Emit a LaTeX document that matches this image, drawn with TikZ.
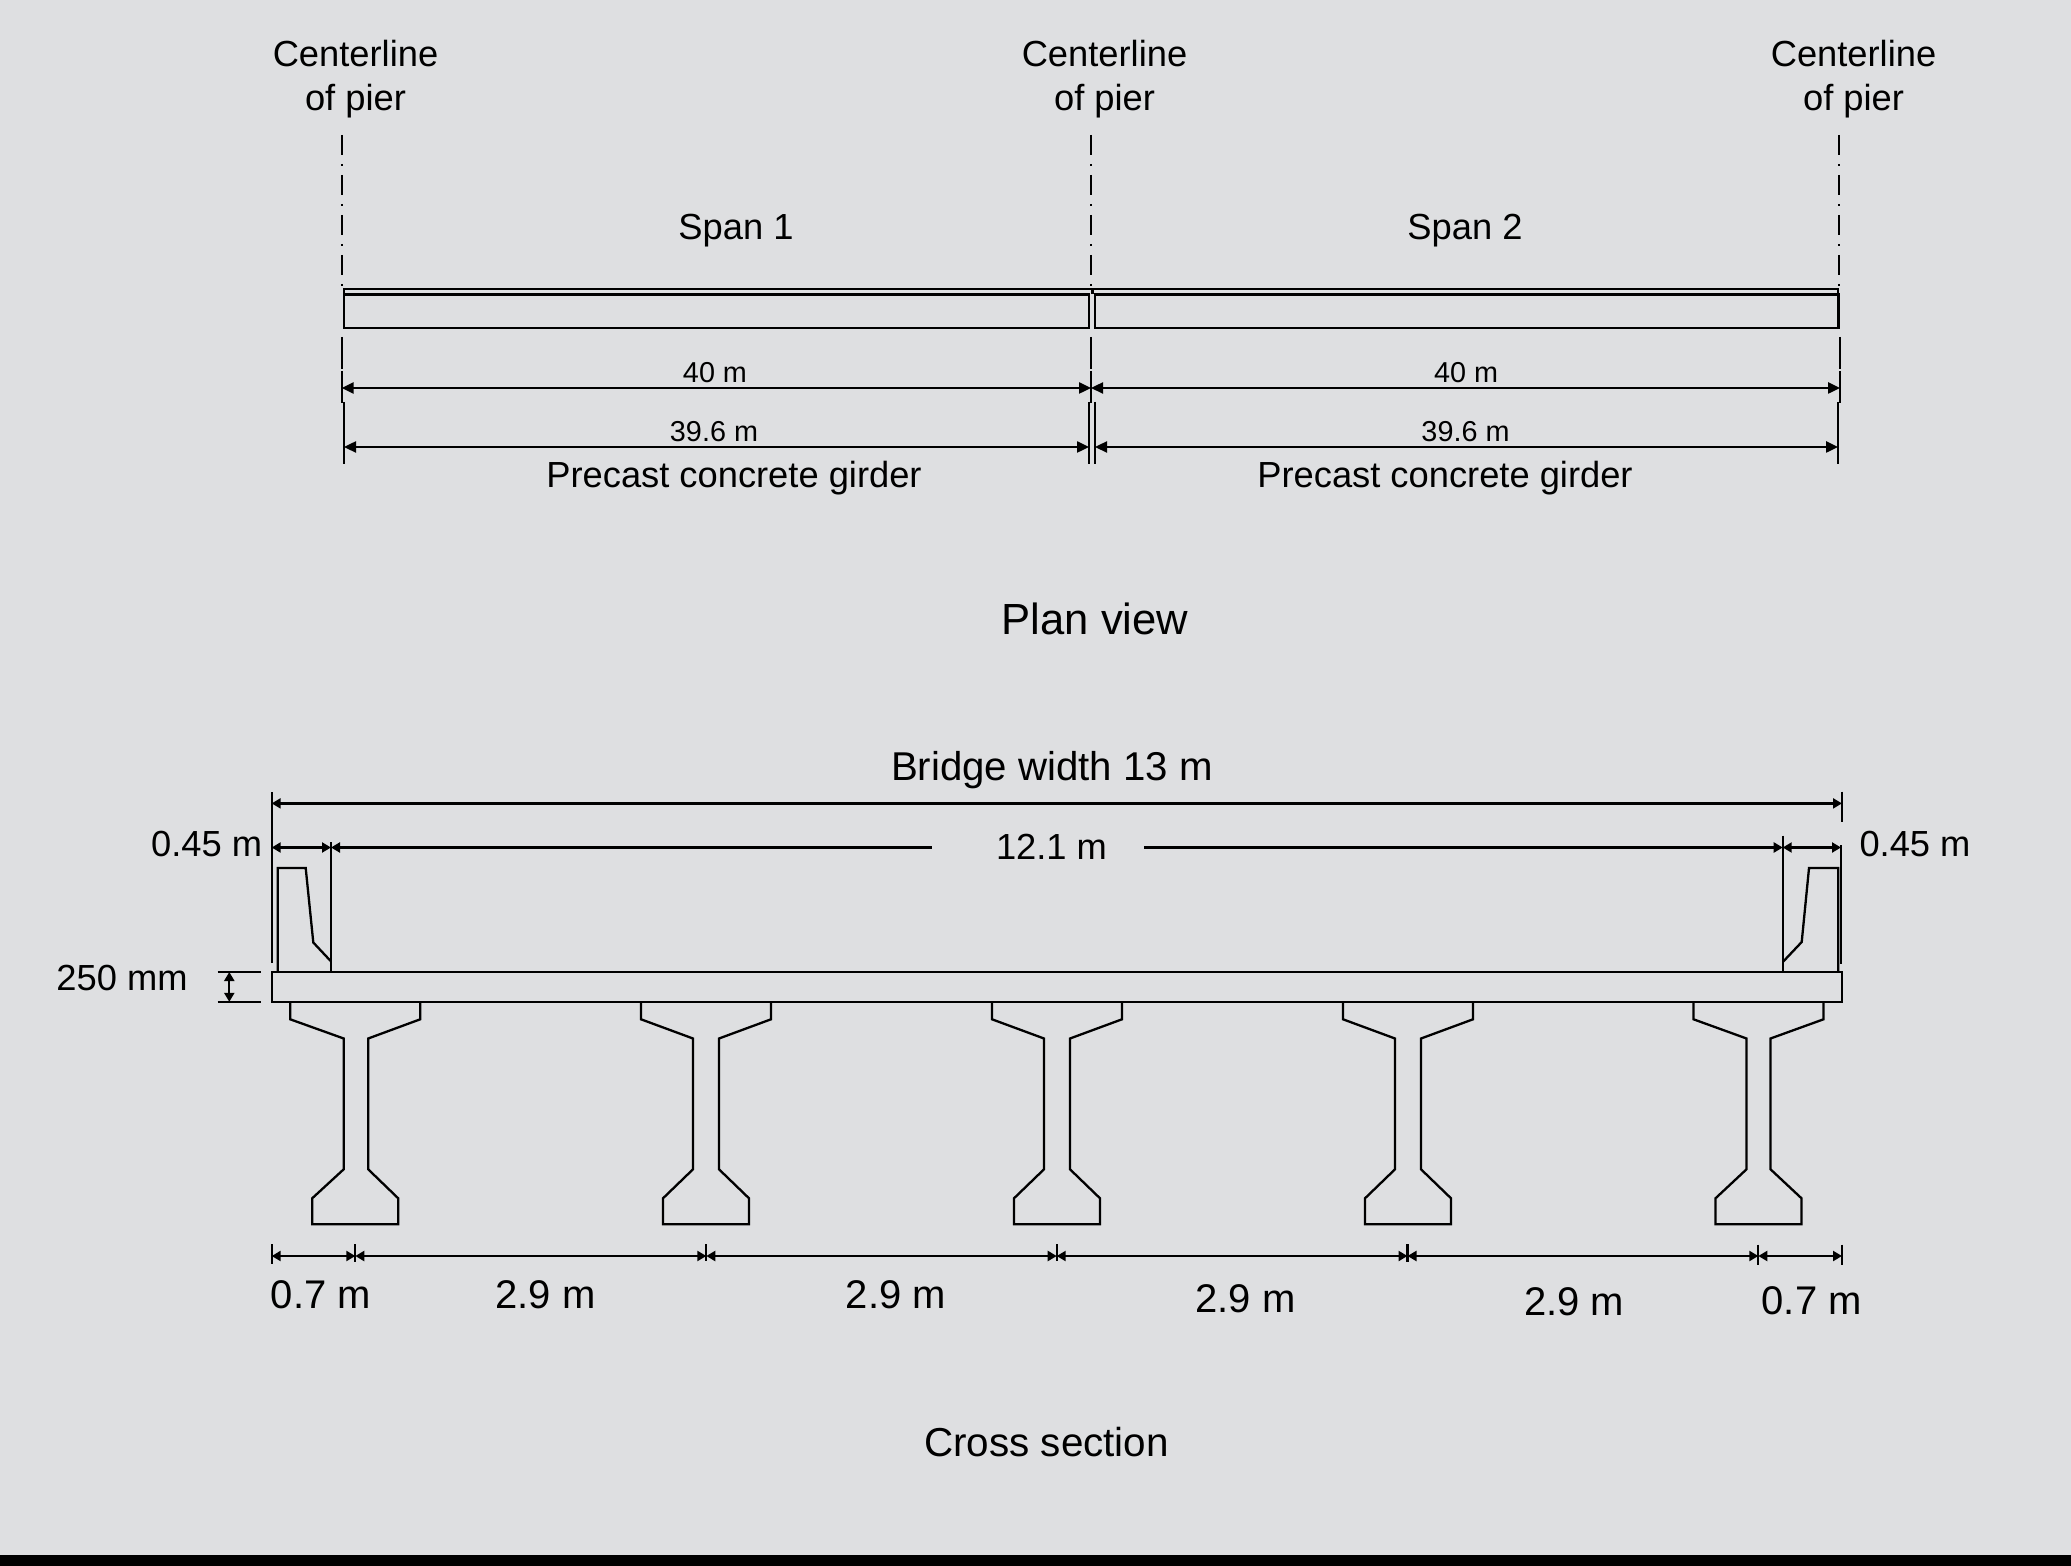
\documentclass[tikz,border=0pt]{standalone}
\usepackage{fontspec}
\setmainfont{Liberation Sans}
\usepackage{xcolor}
\usetikzlibrary{arrows.meta}
\definecolor{sheet}{HTML}{DEDFE1}

\tikzset{
  lbl/.style={anchor=base, inner sep=0pt, font=\fontsize{18.15}{21.75}\selectfont, align=center},
  lblsmall/.style={lbl, font=\fontsize{14.4}{17}\selectfont},
  lbllarge/.style={lbl, font=\fontsize{20}{23}\selectfont},
  lbltitle/.style={lbl, font=\fontsize{21.8}{26}\selectfont},
  outline/.style={line width=1.15pt, line join=miter},
  girderline/.style={line width=1.45pt},
  pierline/.style={line width=1pt, dash pattern=on 10pt off 4.5pt on 1pt off 4.5pt},
  pierlow/.style={line width=1.1pt, dash pattern=on 16pt off 1pt},
  extline/.style={line width=1.1pt},
  dimline/.style={line width=1.2pt, {Triangle[length=6pt,width=5.5pt]}-{Triangle[length=6pt,width=5.5pt]}},
  dimsmall/.style={line width=1.1pt, {Triangle[length=4.5pt,width=5pt]}-{Triangle[length=4.5pt,width=5pt]}},
}

\begin{document}
\begin{tikzpicture}[x=0.5pt, y=-0.5pt]
  \useasboundingbox (0,0) rectangle (2071,1566);
  \fill[sheet] (0,0) rectangle (2071,1566);
  \fill[black] (0,1555) rectangle (2071,1566);

  % plan view
  \coordinate (p1top) at (341.6,135);
  \coordinate (p2top) at (1090.5,135);
  \coordinate (p3top) at (1839,135);
  \coordinate (p1end) at (341.6,288);
  \coordinate (p2end) at (1090.5,288);
  \coordinate (p3end) at (1839,288);
  \draw[pierline] (p1top) -- (p1end);
  \draw[pierline] (p2top) -- (p2end);
  \draw[pierline] (p3top) -- (p3end);
  \coordinate (p1low) at (341.6,337);
  \coordinate (p2low) at (1091,337);
  \coordinate (p3low) at (1840,337);
  \coordinate (p1dim) at (341.6,388);
  \coordinate (p2dim) at (1091,388);
  \coordinate (p3dim) at (1840,388);
  \draw[pierlow] (p1low) -- (341.6,403);
  \draw[pierlow] (p2low) -- (1091,403);
  \draw[pierlow] (p3low) -- (1840,403);

  \node[lbl] (pier1) at (355.5,110.5) {Centerline\\of pier};
  \node[lbl] (pier2) at (1104.5,110.5) {Centerline\\of pier};
  \node[lbl] (pier3) at (1853.5,110.5) {Centerline\\of pier};
  \node[lbl] (span1) at (736,240) {Span 1};
  \node[lbl] (span2) at (1465,240) {Span 2};

  \draw[outline] (344,294) -- (344,289) -- (1838,289) -- (1838,294);
  \draw[girderline] (344,294.5) rectangle (1089,328);
  \draw[girderline] (1095,294.5) rectangle (1838.5,328);
  \draw[outline] (1092.5,289) -- (1092.5,294);

  \draw[dimline] (p1dim) -- (p2dim);
  \draw[dimline] (p2dim) -- (p3dim);
  \node[lblsmall] (len1) at (715,383) {40 m};
  \node[lblsmall] (len2) at (1466,383) {40 m};

  \coordinate (g1l) at (344,447);
  \coordinate (g1r) at (1089,447);
  \coordinate (g2l) at (1095,447);
  \coordinate (g2r) at (1838,447);
  \draw[extline] (344,402) -- (344,464);
  \draw[extline] (1089,402) -- (1089,464);
  \draw[extline] (1095,402) -- (1095,464);
  \draw[extline] (1838,402) -- (1838,464);
  \draw[dimline] (g1l) -- (g1r);
  \draw[dimline] (g2l) -- (g2r);
  \node[lblsmall] (glen1) at (714,442) {39.6 m};
  \node[lblsmall] (glen2) at (1465.5,442) {39.6 m};
  \node[lbl] (girder1) at (734,487.5) {Precast concrete girder};
  \node[lbl] (girder2) at (1445,487.5) {Precast concrete girder};
  \node[lbltitle] (plan) at (1095,635) {Plan view};

  % cross section
  \node[lbltitle, font=\fontsize{20.1}{24}\selectfont] (bwidth) at (1052,780) {Bridge width 13 m};
  \coordinate (wl) at (271.7,803.4);
  \coordinate (wr) at (1842,803.4);
  \draw[extline] (271.7,792) -- (271.7,963);
  \draw[extline] (1842,791.5) -- (1842,821.5);
  \draw[extline] (1841,845) -- (1841,963.5);
  \draw[dimsmall] (wl) -- (wr);

  \coordinate (cl0) at (271.7,847.5);
  \coordinate (cl1) at (331,847.5);
  \coordinate (cr1) at (1782.7,847.5);
  \coordinate (cr0) at (1841,847.5);
  \coordinate (gapl) at (932,847.5);
  \coordinate (gapr) at (1144,847.5);
  \node[lbl] (clear) at (1051.5,859) {12.1 m};
  \draw[dimsmall] (cl0) -- (cl1);
  \draw[dimsmall] (cr1) -- (cr0);
  \draw[line width=1.1pt, {Triangle[length=4.5pt,width=5pt]}-] (cl1) -- (gapl);
  \draw[line width=1.1pt, -{Triangle[length=4.5pt,width=5pt]}] (gapr) -- (cr1);
  \node[lbl] (over1) at (206.7,856) {0.45 m};
  \node[lbl] (over2) at (1915,856) {0.45 m};

  % barriers and deck
  \draw[outline] (277.7,972) -- (277.7,868) -- (305.7,868) -- (313.3,942.5) -- (331,961.4);
  \draw[outline] (331,842) -- (331,972);
  \draw[outline] (1838.3,972) -- (1838.3,868) -- (1809,868) -- (1801.7,942) -- (1783,961.8);
  \draw[outline] (1782.7,835.7) -- (1782.7,972);
  \draw[outline] (272,972) rectangle (1842.3,1001.8);

  \coordinate (t1) at (217.7,972);
  \coordinate (t2) at (217.7,1001.8);
  \coordinate (t1end) at (261,972);
  \coordinate (t2end) at (261,1001.8);
  \draw[extline] (t1) -- (t1end);
  \draw[extline] (t2) -- (t2end);
  \draw[dimsmall] (229.3,972) -- (229.3,1001.8);
  \node[lbl] (thick) at (122,990) {250 mm};

  % girders
  \draw[outline, shift={(355.2,0)}] (-65,1001.8) -- (-65,1019.3) -- (-11.5,1038.5) -- (-11.5,1169.3) -- (-43,1198.3) -- (-43,1224.3) -- (43,1224.3) -- (43,1198.3) -- (13,1169.3) -- (13,1038.5) -- (65,1019.3) -- (65,1001.8);
  \draw[outline, shift={(706,0)}] (-65,1001.8) -- (-65,1019.3) -- (-13,1038.5) -- (-13,1169.3) -- (-43,1198.3) -- (-43,1224.3) -- (43,1224.3) -- (43,1198.3) -- (13,1169.3) -- (13,1038.5) -- (65,1019.3) -- (65,1001.8);
  \draw[outline, shift={(1057,0)}] (-65,1001.8) -- (-65,1019.3) -- (-13,1038.5) -- (-13,1169.3) -- (-43,1198.3) -- (-43,1224.3) -- (43,1224.3) -- (43,1198.3) -- (13,1169.3) -- (13,1038.5) -- (65,1019.3) -- (65,1001.8);
  \draw[outline, shift={(1408,0)}] (-65,1001.8) -- (-65,1019.3) -- (-13,1038.5) -- (-13,1169.3) -- (-43,1198.3) -- (-43,1224.3) -- (43,1224.3) -- (43,1198.3) -- (13,1169.3) -- (13,1038.5) -- (65,1019.3) -- (65,1001.8);
  \draw[outline, shift={(1758.5,0)}] (-65,1001.8) -- (-65,1019.3) -- (-12,1038.5) -- (-12,1169.3) -- (-43,1198.3) -- (-43,1224.3) -- (43,1224.3) -- (43,1198.3) -- (12,1169.3) -- (12,1038.5) -- (65,1019.3) -- (65,1001.8);

  % spacing along the bottom
  \coordinate (s0) at (271.7,1256);
  \coordinate (s1) at (355.3,1256);
  \coordinate (s2) at (706.3,1256);
  \coordinate (s3) at (1056.7,1256);
  \coordinate (s4) at (1407.5,1256);
  \coordinate (s5) at (1758.3,1256);
  \coordinate (s6) at (1842,1256);
  \draw[extline] (271.7,1244.3) -- (271.7,1264);
  \draw[extline] (355.3,1244.3) -- (355.3,1262);
  \draw[extline] (706.3,1244.3) -- (706.3,1261);
  \draw[extline] (1056.7,1244.3) -- (1056.7,1261);
  \draw[extline] (1407.5,1244.3) -- (1407.5,1262);
  \draw[extline] (1758.3,1244.6) -- (1758.3,1265);
  \draw[extline] (1842,1244.6) -- (1842,1265);
  \draw[dimsmall] (s0) -- (s1);
  \draw[dimsmall] (s1) -- (s2);
  \draw[dimsmall] (s2) -- (s3);
  \draw[dimsmall] (s3) -- (s4);
  \draw[dimsmall] (s4) -- (s5);
  \draw[dimsmall] (s5) -- (s6);
  \node[lbllarge] (sp1) at (321,1308) {0.7 m};
  \node[lbllarge] (sp2) at (545.5,1308.5) {2.9 m};
  \node[lbllarge] (sp3) at (895.8,1308.5) {2.9 m};
  \node[lbllarge] (sp4) at (1245.5,1312) {2.9 m};
  \node[lbllarge] (sp5) at (1574,1315) {2.9 m};
  \node[lbllarge] (sp6) at (1811.7,1314) {0.7 m};
  \node[lbltitle, font=\fontsize{20.2}{24}\selectfont] (xsec) at (1046.5,1456) {Cross section};
\end{tikzpicture}
\end{document}
